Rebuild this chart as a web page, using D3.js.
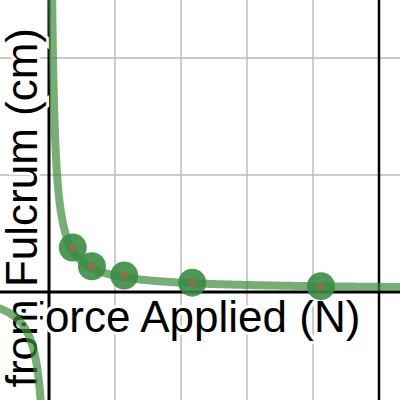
<meta charset="utf-8">
<body style="margin:0">
<div id="chartId"></div>
</body>
<script src="https://d3js.org/d3.v7.min.js"></script>
<script>
// data
var forceVals = [0.36, 0.65, 1.14, 2.17, 4.12];
var distVals = [3.8, 2.2, 1.4, 0.8, 0.5];
var xTicks = [-1, 0, 1, 2, 3, 4, 5];
var yTicks = [-10, 0, 10, 20];
var curveA = 1.2, curveB = 0.2;

var width = 400, height = 400;
var svg = d3.select('#chartId').append('svg')
	.attr('width', width).attr('height', height)
	.style('font-family', 'Liberation Sans, Arial, sans-serif');

var x = d3.scaleLinear().domain([0, 1]).range([49, 115]);
var y = d3.scaleLinear().domain([0, 10]).range([292, 175]);

// grid
svg.selectAll('.vg').data(xTicks).enter().append('line')
	.attr('x1', d => x(d)).attr('x2', d => x(d))
	.attr('y1', 0).attr('y2', height)
	.attr('stroke', '#bbb').attr('stroke-width', 1.5);
svg.selectAll('.hg').data(yTicks).enter().append('line')
	.attr('y1', d => y(d)).attr('y2', d => y(d))
	.attr('x1', 0).attr('x2', width)
	.attr('stroke', '#bbb').attr('stroke-width', 1.5);

// axes + major line
svg.append('line').attr('x1', x(0)).attr('x2', x(0)).attr('y1', 0).attr('y2', height)
	.attr('stroke', '#000').attr('stroke-width', 3);
svg.append('line').attr('x1', x(5)).attr('x2', x(5)).attr('y1', 0).attr('y2', height)
	.attr('stroke', '#000').attr('stroke-width', 2.5);
svg.append('line').attr('y1', y(0)).attr('y2', y(0)).attr('x1', 0).attr('x2', width)
	.attr('stroke', '#000').attr('stroke-width', 3);

// labels with white halo
svg.append('text')
	.attr('x', 18).attr('y', 332)
	.attr('font-size', 44)
	.attr('fill', '#000')
	.attr('stroke', '#fff').attr('stroke-width', 6).attr('paint-order', 'stroke')
	.text('Force Applied (N)');
svg.append('text')
	.attr('transform', 'translate(37,28) rotate(-90)')
	.attr('text-anchor', 'end')
	.attr('font-size', 44)
	.attr('fill', '#000')
	.attr('stroke', '#fff').attr('stroke-width', 6).attr('paint-order', 'stroke')
	.text('Distance from Fulcrum (cm)');

// fitted curve
var line = d3.line().x(d => x(d)).y(d => y(curveA / d + curveB));
var right = d3.range(0.04, 5.6, 0.005);
var left = d3.range(-0.8, -0.04, 0.002);
[right, left].forEach(function(seg) {
	svg.append('path').datum(seg)
		.attr('d', line)
		.attr('fill', 'none')
		.attr('stroke', 'rgb(60,140,60)')
		.attr('stroke-opacity', 0.7)
		.attr('stroke-width', 8);
});

// points
var pts = forceVals.map((f, i) => ({f: f, d: distVals[i]}));
svg.selectAll('.pt').data(pts).enter().append('circle')
	.attr('cx', d => x(d.f)).attr('cy', d => y(d.d))
	.attr('r', 14).attr('fill', '#3a8c45').attr('fill-opacity', 0.9);
svg.selectAll('.pc').data(pts).enter().append('circle')
	.attr('cx', d => x(d.f)).attr('cy', d => y(d.d))
	.attr('r', 4).attr('fill', '#9a6a4a').attr('fill-opacity', 0.8);
</script>
